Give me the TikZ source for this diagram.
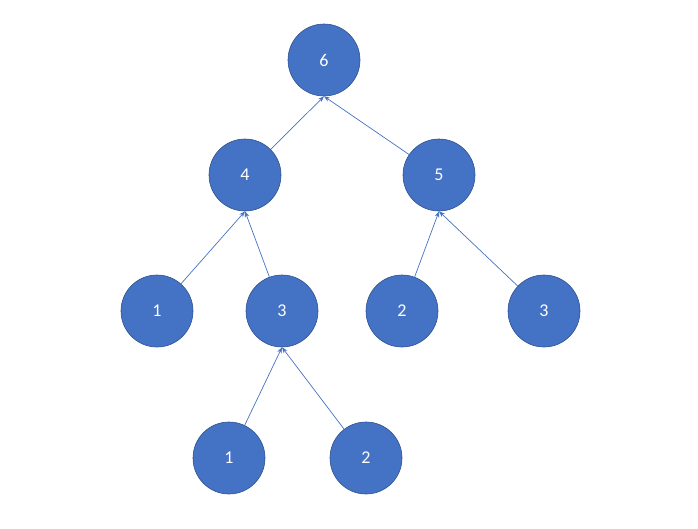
\documentclass[tikz,border=0pt]{standalone}
\usepackage{fontspec}
\setmainfont{Carlito}
\usetikzlibrary{arrows.meta}
\definecolor{nb}{HTML}{4472C4}
\definecolor{nbd}{HTML}{2F528F}
\begin{document}
\begin{tikzpicture}[x=1pt,y=-1pt,
  tn/.style={circle,fill=nb,draw=nbd,line width=0.6pt,minimum size=72pt,inner sep=0pt,text=white,font=\fontsize{18}{20}\selectfont},
  ed/.style={draw=nb,line width=0.7pt,-{Stealth[length=6pt,width=4.5pt]}}]
\useasboundingbox (0,0) rectangle (698,528);
\node[tn] (n6) at (324,60) {6};
\node[tn] (n4) at (245,175) {4};
\node[tn] (n5) at (439,175) {5};
\node[tn] (a1) at (157,311) {1};
\node[tn] (a3) at (282,311) {3};
\node[tn] (b2) at (402,311) {2};
\node[tn] (b3) at (544,311) {3};
\node[tn] (c1) at (229,458) {1};
\node[tn] (c2) at (366,458) {2};
\draw[ed] (n4) -- (n6.south);
\draw[ed] (n5) -- (n6.south);
\draw[ed] (a1) -- (n4.south);
\draw[ed] (a3) -- (n4.south);
\draw[ed] (b2) -- (n5.south);
\draw[ed] (b3) -- (n5.south);
\draw[ed] (c1) -- (a3.south);
\draw[ed] (c2) -- (a3.south);
\end{tikzpicture}
\end{document}
